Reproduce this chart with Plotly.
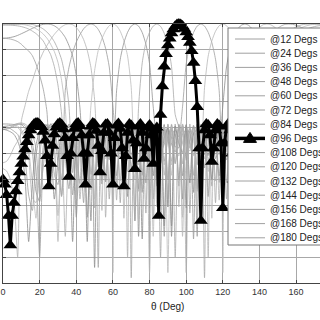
import plotly.graph_objects as go

# ---------------- data (read / estimated from the picture) ----------------
theta_1deg = list(range(0, 181))        # deg, sampling of the highlighted series
theta_2deg = list(range(0, 181, 2))     # deg, sampling of the other series

af_12 = [-0.15,-0.15,-0.12,-0.08,-0.05,-0.01,0,-0.02,-0.09,-0.27,
         -0.55,-0.97,-1.55,-2.35,-3.4,-4.9,-6.9,-10.3,-15.8,-28.7,
         -20.3,-19.7,-26,-27,-19.6,-21,-47,-21,-19.9,-33.8,
         -21.7,-19.8,-34.5,-21.2,-20.3,-49,-20.1,-21.6,-29.2,-19.3,
         -25.5,-22.9,-19.8,-45,-20,-22.2,-26.5,-19.3,-31.3,-21.3,
         -20.5,-36.5,-19.6,-22.9,-25.8,-19.3,-26.3,-23.2,-19.5,-30.6,
         -22.3,-19.6,-29.5,-23.5,-19.3,-23.7,-29,-19.9,-20.4,-30.8,
         -25.2,-19.7,-20.3,-25.8,-17.4,-11.8,-8.2,-5.9,-4.6,-3.3,
         -2.5,-1.85,-1.37,-0.97,-0.7,-0.5,-0.36,-0.28,-0.22,-0.19,-0.18]

af_24 = [-2.75,-2.7,-2.6,-2.45,-2.2,-1.88,-1.55,-1.2,-0.85,-0.52,
         -0.25,-0.06,0,-0.07,-0.35,-0.84,-1.6,-2.6,-4.15,-6.2,
         -10,-16.2,-25.8,-19.6,-21,-47,-21.2,-19.7,-30.5,-22.7,
         -19.5,-29.3,-22.6,-19.7,-33.3,-21.2,-20.4,-41,-19.8,-22.4,
         -26.3,-19.3,-30,-21.3,-20.5,-35.3,-19.5,-23.7,-23.9,-19.6,
         -35.5,-20.7,-21,-31.8,-19.5,-23.3,-25.4,-19.3,-26,-23.7,
         -19.4,-26.2,-24.3,-19.3,-23.4,-29,-19.8,-20.7,-34.5,-23.5,
         -19.4,-20.9,-31.8,-26,-20.2,-19.5,-21.8,-31,-17,-12.6,
         -9.9,-7.7,-6.1,-5.2,-4.6,-3.9,-3.4,-3.1,-2.9,-2.8,-2.75]

af_36 = [-27.9,-28.4,-30,-33.8,-45,-18.8,-15.8,-13,-11,-8.8,
         -7,-5.4,-4.15,-3,-2,-1.2,-0.55,-0.13,0,-0.14,
         -0.67,-1.6,-3,-5.1,-8.4,-14.6,-26.3,-19.4,-22.3,-30.6,
         -19.6,-22,-30.3,-19.5,-23,-26,-19.3,-27.2,-22.3,-19.9,
         -48,-20,-22.3,-26.8,-19.3,-30,-21.3,-20.5,-35.3,-19.5,
         -23.4,-24.5,-19.5,-32.3,-21.2,-20.4,-45,-20.1,-21.2,-34,
         -19.8,-21.3,-37.3,-20.2,-20.4,-35.5,-22.3,-19.3,-23.2,-33.8,
         -20.9,-19.4,-22.9,-41,-23.5,-19.7,-19.7,-22.4,-31.8,-31.4,
         -23.2,-20.5,-19.4,-19.4,-20.3,-21.1,-22.6,-23.8,-25.4,-26.5,-26.8]

af_48 = [-20.4,-20.3,-20.1,-19.7,-19.4,-19.3,-19.6,-20.7,-22.9,-28,
         -45,-25.5,-21,-19.4,-20.1,-24.5,-30,-12.8,-8.4,-5.5,
         -3.5,-2.05,-0.93,-0.24,0,-0.25,-1.05,-2.45,-4.7,-8.3,
         -15.8,-23.4,-19.4,-30,-22.2,-19.8,-38,-20.4,-21.2,-30.7,
         -19.4,-24.8,-23.1,-19.7,-41,-20.1,-22,-27,-19.3,-29.3,
         -21.6,-20.3,-41.5,-19.8,-22.3,-27.8,-19.3,-24.2,-24.7,-19.3,
         -25.5,-24.5,-19.3,-23.8,-27.6,-19.6,-21.2,-42,-21.9,-19.3,
         -22.6,-42,-22.3,-19.4,-20.7,-26.5,-33.8,-22.8,-19.7,-19.4,
         -20.7,-23.4,-31,-42,-29.5,-24.8,-22.6,-21.3,-20.8,-20.5,-20.3]

af_60 = [-19.3,-19.3,-19.3,-19.4,-19.7,-20.4,-21.7,-24.4,-30.7,-37.5,
         -25.3,-21.2,-19.5,-19.7,-23,-37,-25,-20.1,-19.6,-24.5,
         -33.8,-20.8,-19.5,-25.6,-15.8,-9,-5.1,-2.85,-1.3,-0.33,
         0,-0.34,-1.4,-3.25,-6.2,-12.3,-27.9,-19.3,-25.5,-22.9,
         -19.8,-41,-20.1,-21.8,-27.2,-19.3,-29.2,-21.6,-20.4,-37.3,
         -19.6,-22.9,-25.3,-19.3,-30,-21.9,-19.9,-37.5,-20.7,-20.5,
         -48,-20.7,-20.3,-36,-21.7,-19.5,-25.5,-26.9,-19.7,-20.6,
         -31,-25.6,-19.8,-19.8,-23.8,-42,-23.9,-19.9,-19.4,-20.8,
         -24,-34.5,-33.5,-25.5,-22.3,-20.8,-20,-19.6,-19.4,-19.3,-19.3]

af_72 = [-19.8,-19.7,-19.6,-19.4,-19.3,-19.4,-20.1,-21.3,-24.5,-32.3,
         -34.3,-23.5,-20.4,-19.3,-20.8,-26.9,-33.3,-21.5,-19.3,-21.4,
         -37.3,-22.8,-19.3,-22.1,-38,-20.8,-19.9,-30.9,-22.3,-19.4,
         -27.9,-12.9,-6.8,-3.6,-1.6,-0.4,0,-0.4,-1.65,-3.9,
         -7.7,-16,-21.8,-20.4,-39,-19.6,-23.2,-24.7,-19.5,-33.8,
         -20.8,-20.9,-32.5,-19.5,-23.4,-25.2,-19.3,-27.2,-22.9,-19.5,
         -30,-22.8,-19.4,-26.2,-25,-19.3,-22.3,-37.3,-21,-19.5,
         -23.9,-33,-21.2,-19.3,-21.4,-31,-29,-21.4,-19.5,-19.7,
         -21.6,-25.5,-36,-33,-26,-23.1,-21.3,-20.7,-20.2,-19.9,-19.8]

af_84 = [-20.3,-20.2,-19.9,-19.5,-19.2,-19.1,-19.3,-19.9,-21.2,-24,
         -33,-27.5,-21.8,-19.4,-19.3,-21.5,-33,-23,-19.4,-19.8,
         -26,-23.5,-19.3,-20,-32,-19.8,-19.8,-30,-20.5,-19.8,
         -35.5,-19.6,-20.5,-26.6,-19.5,-20.5,-38,-16,-7.5,-3.6,
         -1.6,-0.4,0,-0.45,-1.8,-4.1,-8.2,-17.5,-20,-27,
         -19.5,-24,-21,-19.8,-28,-19.6,-21,-31.3,-20.2,-19.6,
         -31,-21,-19.4,-24.5,-23.5,-19.3,-19.8,-25,-25,-19.7,
         -19.3,-22,-29.5,-22,-19.4,-19.3,-21.3,-27,-25.5,-20.8,
         -19.4,-19.1,-19.8,-21.5,-24.2,-27,-30.3,-34.5,-42,-33,-30]

af_96 = [-30,-31,-33,-37,-42.7,-37,-34.5,-32.3,-30.3,-28.6,
         -27,-25.6,-24.2,-22.8,-21.5,-20.5,-19.8,-19.3,-19.1,-19.1,
         -19.4,-19.9,-20.8,-22.5,-25.5,-31.3,-27,-23.5,-21.3,-20,
         -19.3,-19.1,-19.4,-20.3,-22,-25.5,-29.5,-25,-22,-20.2,
         -19.3,-19.1,-19.7,-21.5,-25,-31,-25,-21.5,-19.8,-19.1,
         -19.3,-20.6,-23.5,-28.6,-24.5,-21,-19.4,-19.3,-21,-25,
         -31,-22,-19.6,-19.2,-20.2,-24,-31.3,-25.5,-21,-19.3,
         -19.6,-22.5,-28,-23,-19.8,-19.3,-21,-26,-24,-20,
         -19.5,-21.5,-27,-20.5,-20,-37,-17.5,-12,-8.2,-5.8,
         -4.1,-2.8,-1.8,-1.0,-0.45,-0.1,0,-0.1,-0.4,-0.9,
         -1.6,-2.5,-3.6,-5.2,-7.5,-11,-16,-24,-38,-24,
         -20.5,-19.3,-19.5,-21.5,-26.6,-24,-20.5,-19.3,-19.6,-23,
         -35.5,-23,-19.8,-19.2,-20.5,-25,-30,-22,-19.8,-19.2,
         -19.8,-23,-32,-23,-20,-19.2,-19.3,-20.5,-23.5,-29,
         -26,-21.5,-19.8,-19.2,-19.4,-20.5,-23,-27.5,-33,-25,
         -21.5,-20,-19.3,-19.1,-19.4,-20.3,-21.8,-24,-27.5,-34,
         -33,-27,-24,-22.3,-21.2,-20.4,-19.9,-19.5,-19.3,-19.2,
         -19.1,-19.1,-19.2,-19.3,-19.5,-19.7,-19.9,-20.1,-20.2,-20.3,-20.3]

af_108 = [-19.8,-19.9,-20.2,-20.7,-21.3,-23.1,-26,-33,-36,-25.5,
          -21.6,-19.7,-19.5,-21.4,-29,-31,-21.4,-19.3,-21.2,-33,
          -23.9,-19.5,-21,-37.3,-22.3,-19.3,-25,-26.2,-19.4,-22.8,
          -30,-19.5,-22.9,-27.2,-19.3,-25.2,-23.4,-19.5,-32.5,-20.9,
          -20.8,-33.8,-19.5,-24.7,-23.2,-19.6,-39,-20.4,-21.8,-16,
          -7.7,-3.9,-1.65,-0.4,0,-0.4,-1.6,-3.6,-6.8,-12.9,
          -27.9,-19.4,-22.3,-30.9,-19.9,-20.8,-38,-22.1,-19.3,-22.8,
          -37.3,-21.4,-19.3,-21.5,-33.3,-26.9,-20.8,-19.3,-20.4,-23.5,
          -34.3,-32.3,-24.5,-21.3,-20.1,-19.4,-19.3,-19.4,-19.6,-19.7,-19.8]

af_120 = [-19.3,-19.3,-19.4,-19.6,-20,-20.8,-22.3,-25.5,-33.5,-34.5,
          -24,-20.8,-19.4,-19.9,-23.9,-42,-23.8,-19.8,-19.8,-25.6,
          -31,-20.6,-19.7,-26.9,-25.5,-19.5,-21.7,-36,-20.3,-20.7,
          -48,-20.5,-20.7,-37.5,-19.9,-21.9,-30,-19.3,-25.3,-22.9,
          -19.6,-37.3,-20.4,-21.6,-29.2,-19.3,-27.2,-21.8,-20.1,-41,
          -19.8,-22.9,-25.5,-19.3,-27.9,-12.3,-6.2,-3.25,-1.4,-0.34,
          0,-0.33,-1.3,-2.85,-5.1,-9,-15.8,-25.6,-19.5,-20.8,
          -33.8,-24.5,-19.6,-20.1,-25,-37,-23,-19.7,-19.5,-21.2,
          -25.3,-37.5,-30.7,-24.4,-21.7,-20.4,-19.7,-19.4,-19.3,-19.3,-19.3]

af_132 = [-20.3,-20.5,-20.8,-21.3,-22.6,-24.8,-29.5,-42,-31,-23.4,
          -20.7,-19.4,-19.7,-22.8,-33.8,-26.5,-20.7,-19.4,-22.3,-42,
          -22.6,-19.3,-21.9,-42,-21.2,-19.6,-27.6,-23.8,-19.3,-24.5,
          -25.5,-19.3,-24.7,-24.2,-19.3,-27.8,-22.3,-19.8,-41.5,-20.3,
          -21.6,-29.3,-19.3,-27,-22,-20.1,-41,-19.7,-23.1,-24.8,
          -19.4,-30.7,-21.2,-20.4,-38,-19.8,-22.2,-30,-19.4,-23.4,
          -15.8,-8.3,-4.7,-2.45,-1.05,-0.25,0,-0.24,-0.93,-2.05,
          -3.5,-5.5,-8.4,-12.8,-30,-24.5,-20.1,-19.4,-21,-25.5,
          -42,-28,-22.9,-20.7,-19.6,-19.3,-19.4,-19.7,-20.1,-20.3,-20.4]

af_144 = [-26.8,-26.5,-25.4,-23.8,-22.6,-21.1,-20.3,-19.4,-19.4,-20.5,
          -23.2,-31.4,-31.8,-22.4,-19.7,-19.7,-23.5,-41,-22.9,-19.4,
          -20.9,-33.8,-23.2,-19.3,-22.3,-35.5,-20.4,-20.2,-37.3,-21.3,
          -19.8,-34,-21.2,-20.1,-45,-20.4,-21.2,-32.3,-19.5,-24.5,
          -23.4,-19.5,-35.3,-20.5,-21.3,-30,-19.3,-26.8,-22.3,-20,
          -48,-19.9,-22.3,-27.2,-19.3,-26,-23,-19.5,-30.3,-22,
          -19.6,-30.6,-22.3,-19.4,-26.3,-14.6,-8.4,-5.1,-3,-1.6,
          -0.67,-0.14,0,-0.13,-0.55,-1.2,-2,-3,-4.15,-5.4,
          -7,-8.8,-11,-13,-15.8,-18.8,-42,-33.8,-30,-28.4,-27.9]

af_156 = [-2.75,-2.8,-2.9,-3.1,-3.4,-3.9,-4.6,-5.2,-6.1,-7.7,
          -9.9,-12.6,-17,-31,-21.8,-19.5,-20.2,-26,-31.8,-20.9,
          -19.4,-23.5,-34.5,-20.7,-19.8,-29,-23.4,-19.3,-24.3,-26.2,
          -19.4,-23.7,-26,-19.3,-25.4,-23.3,-19.5,-31.8,-21,-20.7,
          -35.5,-19.6,-23.9,-23.7,-19.5,-35.3,-20.5,-21.3,-30,-19.3,
          -26.3,-22.4,-19.8,-41,-20.4,-21.2,-33.3,-19.7,-22.6,-29.3,
          -19.5,-22.7,-30.5,-19.7,-21.2,-41,-21,-19.6,-25.8,-16.2,
          -10,-6.2,-4.15,-2.6,-1.6,-0.84,-0.35,-0.07,0,-0.06,
          -0.25,-0.52,-0.85,-1.2,-1.55,-1.88,-2.2,-2.45,-2.6,-2.7,-2.75]

af_168 = [-0.18,-0.19,-0.22,-0.28,-0.36,-0.5,-0.7,-0.97,-1.37,-1.85,
          -2.5,-3.3,-4.6,-5.9,-8.2,-11.8,-17.4,-25.8,-20.3,-19.7,
          -25.2,-30.8,-20.4,-19.9,-29,-23.7,-19.3,-23.5,-29.5,-19.6,
          -22.3,-30.6,-19.5,-23.2,-26.3,-19.3,-25.8,-22.9,-19.6,-36.5,
          -20.5,-21.3,-31.3,-19.3,-26.5,-22.2,-20,-45,-19.8,-22.9,
          -25.5,-19.3,-29.2,-21.6,-20.1,-49,-20.3,-21.2,-34.5,-19.8,
          -21.7,-33.8,-19.9,-21,-40,-21,-19.6,-27,-26,-19.7,
          -20.3,-28.7,-15.8,-10.3,-6.9,-4.9,-3.4,-2.35,-1.55,-0.97,
          -0.55,-0.27,-0.09,-0.02,0,-0.01,-0.05,-0.08,-0.12,-0.15,-0.15]

af_180 = [0,0,0,-0.01,-0.03,-0.07,-0.15,-0.32,-0.55,-0.9,
          -1.35,-1.95,-2.75,-3.9,-5.3,-7.4,-10.9,-16.4,-27.9,-20.3,
          -19.7,-25,-29.2,-20,-20.4,-33.8,-22.5,-19.4,-26,-24.5,
          -19.3,-25.2,-24.3,-19.3,-28.5,-22.4,-19.8,-38,-20.3,-21.3,
          -29.9,-19.3,-25.5,-22.7,-19.8,-48,-19.8,-22.7,-25.5,-19.3,
          -29.9,-21.3,-20.3,-38,-19.8,-22.4,-28.5,-19.3,-24.3,-25.2,
          -19.3,-24.5,-26,-19.4,-22.5,-33.8,-20.4,-20,-29.2,-25,
          -19.7,-20.3,-27.9,-16.4,-10.9,-7.4,-5.3,-3.9,-2.75,-1.95,
          -1.35,-0.9,-0.55,-0.32,-0.15,-0.07,-0.03,-0.01,0,0,0]

legend_labels = ["@12 Degs", "@24 Degs", "@36 Degs", "@48 Degs", "@60 Degs",
                 "@72 Degs", "@84 Degs", "@96 Degs", "@108 Degs", "@120 Degs",
                 "@132 Degs", "@144 Degs", "@156 Degs", "@168 Degs", "@180 Degs"]
x_ticks = [0, 20, 40, 60, 80, 100, 120, 140, 160]

gray_series = [af_12, af_24, af_36, af_48, af_60, af_72, af_84,
               af_108, af_120, af_132, af_144, af_156, af_168, af_180]
gray_colors = ["#a6a6a6", "#8f8f8f", "#b4b4b4", "#9a9a9a", "#bdbdbd", "#949494", "#aaaaaa",
               "#a0a0a0", "#b8b8b8", "#8c8c8c", "#b0b0b0", "#9d9d9d", "#a8a8a8", "#bababa"]

# ---------------- figure ----------------
W, H = 320, 320
ML, MR, MT, MB = 3, 0, 24, 37
PW, PH = W - ML - MR, H - MT - MB

fig = go.Figure()
for vals, col in zip(gray_series, gray_colors):
    fig.add_trace(go.Scatter(x=theta_2deg, y=vals, mode="lines",
                             line=dict(color=col, width=0.8, shape="spline", smoothing=0.6),
                             showlegend=False, hoverinfo="skip"))
fig.add_trace(go.Scatter(x=theta_1deg, y=af_96, mode="lines+markers",
                         line=dict(color="black", width=3),
                         marker=dict(symbol="triangle-up", size=12, color="black"),
                         cliponaxis=False, showlegend=False, hoverinfo="skip"))

def fx(px):
    return (px - ML) / PW

def fy(py):
    return (H - MB - py) / PH

shapes = [dict(type="rect", xref="paper", yref="paper", layer="above",
               x0=fx(228), x1=1.2, y0=fy(245), y1=fy(28),
               line=dict(color="#777777", width=1), fillcolor="white")]
annotations = []
for i, lab in enumerate(legend_labels):
    yy = 39 + 14.2 * i
    if lab == "@96 Degs":
        shapes.append(dict(type="line", xref="paper", yref="paper", layer="above",
                           x0=fx(235), x1=fx(265), y0=fy(yy), y1=fy(yy),
                           line=dict(color="black", width=3.5)))
        path = "M {:.4f},{:.4f} L {:.4f},{:.4f} L {:.4f},{:.4f} Z".format(
            fx(243.5), fy(yy + 4), fx(256.5), fy(yy + 4), fx(250), fy(yy - 6))
        shapes.append(dict(type="path", xref="paper", yref="paper", layer="above",
                           path=path, fillcolor="black", line=dict(color="black", width=1)))
    else:
        shapes.append(dict(type="line", xref="paper", yref="paper", layer="above",
                           x0=fx(235), x1=fx(265), y0=fy(yy), y1=fy(yy),
                           line=dict(color="#a0a0a0", width=1)))
    annotations.append(dict(text=lab, xref="paper", yref="paper", x=fx(268), y=fy(yy),
                            xanchor="left", yanchor="middle", showarrow=False,
                            font=dict(size=10, color="#222222")))

annotations.append(dict(text="θ (Deg)", xref="paper", yref="paper", x=fx(167), y=fy(306),
                        xanchor="center", yanchor="middle", showarrow=False,
                        font=dict(size=10, color="#222222")))

fig.update_layout(
    width=W, height=H,
    margin=dict(l=ML, r=MR, t=MT, b=MB, pad=0),
    paper_bgcolor="white", plot_bgcolor="white",
    showlegend=False,
    font=dict(family="Liberation Sans, Arial, sans-serif", size=10, color="#222222"),
    shapes=shapes, annotations=annotations,
    xaxis=dict(range=[0, PW / 1.832], tickmode="array", tickvals=x_ticks,
               ticktext=[str(t) for t in x_ticks],
               showgrid=True, gridcolor="#a8a8a8", gridwidth=1, zeroline=False,
               showline=True, linecolor="#444444", linewidth=1, mirror="ticks",
               ticks="inside", ticklen=3, tickcolor="#444444",
               tickfont=dict(size=9, color="#333333")),
    yaxis=dict(range=[-50, 0], dtick=5, showticklabels=False,
               showgrid=True, gridcolor="#a8a8a8", gridwidth=1, zeroline=False,
               showline=True, linecolor="#444444", linewidth=1, mirror=False,
               ticks="inside", ticklen=3, tickcolor="#444444"),
)

fig.write_html("out.html")
